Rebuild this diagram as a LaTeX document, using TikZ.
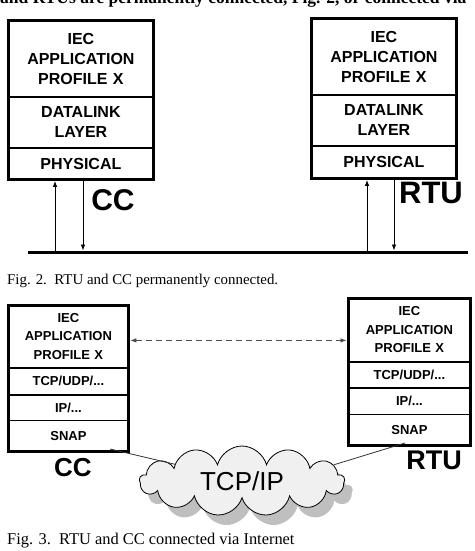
\documentclass[tikz,border=0pt]{standalone}
\usepackage{fontspec}
\setmainfont{Liberation Serif}
\setsansfont{Liberation Sans}
\usetikzlibrary{arrows.meta}
\usetikzlibrary{positioning}
\usetikzlibrary{shapes.symbols}
\usetikzlibrary{shadows}

\tikzset{
  layer/.style={draw, line width=0.8pt, inner sep=0pt, align=center,
    text width=#1, minimum width=#1,
    font=\sffamily\bfseries\fontsize{16}{20}\selectfont},
  smalllayer/.style={layer=#1, font=\sffamily\bfseries\fontsize{13}{18.5}\selectfont},
  stack/.style={line width=3pt},
  tag/.style={inner sep=0pt, font=\sffamily\bfseries\fontsize{#1}{#1}\selectfont},
  caption/.style={anchor=west, inner sep=0pt, font=\fontsize{#1}{16}\selectfont},
  link/.style={line width=0.8pt, -{Latex[length=6pt,width=4.5pt]}, shorten >=1.5pt},
}

\begin{document}
\begin{tikzpicture}
        [x=1pt, y=-1pt]
        \useasboundingbox (0,0) rectangle (474,551);

        % text of the page above the figures
        \begin{scope}
        \clip (0,0) rectangle (474,551);
        \node [anchor=base west, inner sep=0pt, font=\bfseries\fontsize{17.5}{17.5}\selectfont] (intro) at (0,4)
              {and RTUs are permanently connected, Fig. 2, or connected via};
        \end{scope}

        % Fig. 2
        \node [layer=145pt, minimum height=75pt, anchor=north west] (cciec) at (8,21) {IEC\\APPLICATION\\PROFILE X};
        \node [layer=145pt, minimum height=50pt, below=0pt of cciec] (ccdl) {DATALINK\\LAYER};
        \node [layer=145pt, minimum height=31pt, below=0pt of ccdl] (ccphy) {PHYSICAL};
        \draw [stack] (cciec.north west) rectangle (ccphy.south east);

        \node [layer=145pt, minimum height=75pt, anchor=north west] (rtuiec) at (311,19) {IEC\\APPLICATION\\PROFILE X};
        \node [layer=145pt, minimum height=50pt, below=0pt of rtuiec] (rtudl) {DATALINK\\LAYER};
        \node [layer=145pt, minimum height=32pt, below=0pt of rtudl] (rtuphy) {PHYSICAL};
        \draw [stack] (rtuiec.north west) rectangle (rtuphy.south east);

        \node [tag=30] (cctag) at (113,200) {CC};
        \node [tag=31] (rtutag) at (431,193) {RTU};

        \coordinate (busw) at (28,252);
        \coordinate (buse) at (468,252);
        \draw [line width=3pt] (busw) -- (buse);

        \coordinate (ccup) at (55,250.5);
        \coordinate (ccdown) at (83,252);
        \coordinate (rtuup) at (367,250.5);
        \coordinate (rtudown) at (394,252);
        \draw [link] (ccup) -- (ccup |- ccphy.south);
        \draw [link] (ccphy.south -| ccdown) -- (ccdown);
        \draw [link] (rtuup) -- (rtuup |- rtuphy.south);
        \draw [link] (rtuphy.south -| rtudown) -- (rtudown);

        \node [caption=14.9] (cap2) at (7,281) {Fig. 2.\ \ RTU and CC permanently connected.};

        % Fig. 3
        \node [smalllayer=120pt, minimum height=62pt, anchor=north west] (cc3iec) at (8,305) {IEC\\APPLICATION\\PROFILE X};
        \node [smalllayer=120pt, minimum height=26pt, below=0pt of cc3iec] (cc3tcp) {TCP/UDP/...};
        \node [smalllayer=120pt, minimum height=25pt, below=0pt of cc3tcp] (cc3ip) {IP/...};
        \node [smalllayer=120pt, minimum height=30pt, below=0pt of cc3ip] (cc3snap) {SNAP};
        \draw [stack] (cc3iec.north west) rectangle (cc3snap.south east);

        \node [smalllayer=122pt, minimum height=63pt, anchor=north west] (rtu3iec) at (348,298) {IEC\\APPLICATION\\PROFILE X};
        \node [smalllayer=122pt, minimum height=25pt, below=0pt of rtu3iec] (rtu3tcp) {TCP/UDP/...};
        \node [smalllayer=122pt, minimum height=26pt, below=0pt of rtu3tcp] (rtu3ip) {IP/...};
        \node [smalllayer=122pt, minimum height=30pt, below=0pt of rtu3ip] (rtu3snap) {SNAP};
        \draw [stack] (rtu3iec.north west) rectangle (rtu3snap.south east);

        \node [tag=26] (cc3tag) at (73,468) {CC};
        \node [tag=27] (rtu3tag) at (434,460) {RTU};

        \draw [dashed, dash pattern=on 6pt off 4pt, gray!60!black, line width=0.8pt,
               {Latex[length=6pt,width=4.5pt]}-{Latex[length=6pt,width=4.5pt]}, shorten <=1.5pt, shorten >=1.5pt]
              ([yshift=-4pt]cc3iec.east) -- ([yshift=-4pt]cc3iec.east -| rtu3iec.west);

        \node [cloud, cloud puffs=13, cloud ignores aspect, draw, line width=0.8pt, fill=gray!12,
               minimum width=205pt, minimum height=70pt, inner sep=0pt,
               drop shadow={fill=gray!50, shadow xshift=8pt, shadow yshift=-10pt, opacity=1},
               font=\sffamily\fontsize{26}{26}\selectfont] (net) at (242,481) {TCP/IP};

        \coordinate (cclink) at (110,449);
        \coordinate (rtulink) at (405,443);
        \draw [line width=0.8pt, gray!40!black] (cclink) -- (net.166);
        \draw [line width=0.8pt, gray!40!black] (rtulink) -- (net.10);

        \node [caption=16.4] (cap3) at (7,541) {Fig. 3.\ \ RTU and CC connected via Internet};
    \end{tikzpicture}
\end{document}
